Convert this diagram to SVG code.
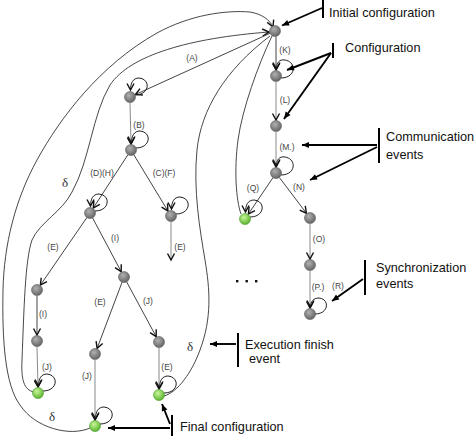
<svg xmlns="http://www.w3.org/2000/svg" width="474" height="438" viewBox="0 0 474 438">
<style>
.edge{fill:none;stroke:#444;stroke-width:1;marker-end:url(#open)}
.edgel{fill:none;stroke:#8a8a8a;stroke-width:1;marker-end:url(#open)}
.loop{fill:none;stroke:#222;stroke-width:1;marker-end:url(#open)}
.curve{fill:none;stroke:#333;stroke-width:0.9}
.ann{fill:none;stroke:#000;stroke-width:1.9;marker-end:url(#solid)}
.bar{stroke:#000;stroke-width:2}
.lbl{font-family:"Liberation Sans",Arial,sans-serif;font-size:8.5px;fill:#444;text-anchor:middle}
.txt{font-family:"Liberation Sans",Arial,sans-serif;font-size:12.7px;fill:#111}
.delta{font-family:"Liberation Serif","Times New Roman",serif;font-size:13px;fill:#333;text-anchor:middle}
.g{fill:url(#gray);stroke:#5a5a5a;stroke-width:0.6}
.gr{fill:url(#green);stroke:#4a9a2a;stroke-width:0.6}
</style>
<defs>
<radialGradient id="gray" cx="40%" cy="35%" r="65%">
<stop offset="0" stop-color="#b0b0b0"/>
<stop offset="1" stop-color="#666"/>
</radialGradient>
<radialGradient id="green" cx="40%" cy="35%" r="65%">
<stop offset="0" stop-color="#c8f59a"/>
<stop offset="1" stop-color="#5cb52f"/>
</radialGradient>
<marker id="open" markerUnits="userSpaceOnUse" markerWidth="10" markerHeight="10" refX="6.5" refY="3.5" orient="auto" overflow="visible">
<path d="M0,0 L6.5,3.5 L0,7" fill="none" stroke="#111" stroke-width="1.4"/>
</marker>
<marker id="solid" markerUnits="userSpaceOnUse" markerWidth="10" markerHeight="10" refX="7" refY="3" orient="auto" overflow="visible">
<path d="M0,0 L7,3 L0,6 z" fill="#000"/>
</marker>
</defs>

<g id="connectors">
<!-- delta curves back to initial configuration -->
<path class="curve" d="M90,428 C70,437 35,428 20,405 C5,385 2,340 3,290 C4,245 15,200 37,160 C60,118 100,65 157,33 C190,15 225,10 250,12 C262,14 270,20 273,27" marker-end="url(#open)"/>
<path class="curve" d="M34,392 C24,390 21,380 22,360 C24,310 25,260 32,240 C40,222 62,212 72,192 C90,160 92,115 110,85 C130,55 190,38 269,32" marker-end="url(#open)"/>
<path class="curve" d="M164,396 C178,392 192,372 200,350 C212,318 210,290 205,260 C200,230 193,190 197,150 C201,110 225,70 270,36"/>
<path class="curve" d="M241,214 C236,200 234,170 238,140 C242,110 258,65 272,36"/>
<!-- right chain -->
<path class="edge" d="M276,37 L276,70"/>
<path class="edgel" d="M276,82 L276,120"/>
<path class="edgel" d="M276,132 L276,167"/>
<path class="edge" d="M273,177.6 L248.4,214"/>
<path class="edge" d="M279.3,177.4 L306.4,213.2"/>
<path class="edgel" d="M310,224 L310,259"/>
<path class="edgel" d="M310,271 L310,308"/>
<!-- left tree -->
<path class="edge" d="M270,33.3 L135.5,94.5"/>
<path class="edgel" d="M130,103 L131,144"/>
<path class="edge" d="M128,154.6 L93.3,208"/>
<path class="edge" d="M133.8,154.7 L167.9,210.9"/>
<path class="edgel" d="M171,222 L171,260"/>
<path class="edge" d="M86.9,217.5 L40.4,285.1"/>
<path class="edge" d="M92.6,217.9 L121.2,271.7"/>
<path class="edge" d="M37,296 L37,335"/>
<path class="edgel" d="M37,347 L38,387"/>
<path class="edge" d="M122.1,282.1 L97.1,348.4"/>
<path class="edge" d="M126.6,281.8 L156.2,336.7"/>
<path class="edgel" d="M95,360 L95,420"/>
<path class="edgel" d="M159,348 L159,389"/>
<!-- self loops -->
<path class="loop" d="M135,95 C150,95 151,79 139,78 C133,78 130.5,83 130.5,90"/>
<path class="loop" d="M136,148 C151,148 152,132 140,131 C134,131 131.5,136 131.5,143"/>
<path class="loop" d="M95,211 C110,211 111,195 99,194 C93,194 90.5,199 90.5,206"/>
<path class="loop" d="M176,214 C191,214 192,198 180,197 C174,197 171.5,202 171.5,209"/>
<path class="loop" d="M281,78 C296,78 297,62 285,60 C279,59 276.5,63 276.5,69"/>
<path class="loop" d="M281,175 C296,175 297,159 285,157 C279,156 276.5,160 276.5,166"/>
<path class="loop" d="M250,217 C265,217 266,201 254,200 C248,200 245.5,205 245.5,212"/>
<path class="loop" d="M43,391 C58,391 59,375 47,374 C41,374 38.5,379 38.5,386"/>
<path class="loop" d="M100,424 C115,424 116,408 104,407 C98,407 95.5,412 95.5,419"/>
<path class="loop" d="M164,393 C179,393 180,377 168,376 C162,376 159.5,381 159.5,388"/>
<path class="loop" d="M315,314 C329,314 330,299 319,298 C313,298 310.5,302 310.5,307"/>
</g>

<g id="nodes">
<g id="n-root"><circle class="g" cx="275" cy="31" r="5.5"/></g>
<g id="n-k"><circle class="g" cx="276" cy="76" r="5.5"/></g>
<g id="n-l"><circle class="g" cx="276" cy="126" r="5.5"/></g>
<g id="n-m"><circle class="g" cx="276" cy="173" r="5.5"/></g>
<g id="n-q"><circle class="gr" cx="245" cy="219" r="5.5"/></g>
<g id="n-n"><circle class="g" cx="310" cy="218" r="5.5"/></g>
<g id="n-o"><circle class="g" cx="310" cy="265" r="5.5"/></g>
<g id="n-p"><circle class="g" cx="310" cy="314" r="5.5"/></g>
<g id="n-a"><circle class="g" cx="130" cy="97" r="5.5"/></g>
<g id="n-b"><circle class="g" cx="131" cy="150" r="5.5"/></g>
<g id="n-dh"><circle class="g" cx="90" cy="213" r="5.5"/></g>
<g id="n-cf"><circle class="g" cx="171" cy="216" r="5.5"/></g>
<g id="n-e1"><circle class="g" cx="37" cy="290" r="5.5"/></g>
<g id="n-i"><circle class="g" cx="124" cy="277" r="5.5"/></g>
<g id="n-i2"><circle class="g" cx="37" cy="341" r="5.5"/></g>
<g id="n-j1"><circle class="gr" cx="38" cy="393" r="5.5"/></g>
<g id="n-ie"><circle class="g" cx="95" cy="354" r="5.5"/></g>
<g id="n-ij"><circle class="g" cx="159" cy="342" r="5.5"/></g>
<g id="n-jf"><circle class="gr" cx="95" cy="426" r="5.5"/></g>
<g id="n-ef"><circle class="gr" cx="159" cy="395" r="5.5"/></g>
<g id="dots" fill="#111">
<rect x="236" y="280" width="2.4" height="2.4"/>
<rect x="245.5" y="280" width="2.4" height="2.4"/>
<rect x="255" y="280" width="2.4" height="2.4"/>
</g>
</g>

<g id="labels">
<text class="lbl" x="285" y="53">(K)</text>
<text class="lbl" x="285" y="103">(L)</text>
<text class="lbl" x="287" y="150">(M.)</text>
<text class="lbl" x="253" y="191">(Q)</text>
<text class="lbl" x="299" y="190">(N)</text>
<text class="lbl" x="319" y="242">(O)</text>
<text class="lbl" x="318" y="290">(P.)</text>
<text class="lbl" x="338" y="289">(R)</text>
<text class="lbl" x="192" y="61">(A)</text>
<text class="lbl" x="139" y="128">(B)</text>
<text class="lbl" x="102" y="176">(D)(H)</text>
<text class="lbl" x="164" y="176">(C)(F)</text>
<text class="lbl" x="180" y="250">(E)</text>
<text class="lbl" x="53" y="250">(E)</text>
<text class="lbl" x="115" y="241">(I)</text>
<text class="lbl" x="43" y="317">(I)</text>
<text class="lbl" x="47" y="370">(J)</text>
<text class="lbl" x="100" y="305">(E)</text>
<text class="lbl" x="148" y="304">(J)</text>
<text class="lbl" x="87" y="379">(J)</text>
<text class="lbl" x="167" y="370">(E)</text>
<text class="delta" x="65" y="187">δ</text>
<text class="delta" x="52" y="421">δ</text>
<text class="delta" x="190" y="351">δ</text>
</g>

<g id="annotations">
<line class="bar" x1="323" y1="0" x2="323" y2="18"/>
<path class="ann" d="M322,8 L282,25.5"/>
<text class="txt" x="329" y="17">Initial configuration</text>

<line class="bar" x1="333" y1="43" x2="333" y2="58"/>
<path class="ann" d="M331,53 L287,70"/>
<path class="ann" d="M331,53 L284,119"/>
<text class="txt" x="345" y="52">Configuration</text>

<line class="bar" x1="379" y1="128" x2="379" y2="163"/>
<path class="ann" d="M377,145 L302,145"/>
<path class="ann" d="M377,147 L310,180"/>
<text class="txt" x="386" y="141">Communication</text>
<text class="txt" x="386" y="159">events</text>

<line class="bar" x1="365" y1="260" x2="365" y2="295"/>
<path class="ann" d="M363,279 L332,301"/>
<text class="txt" x="376" y="272">Synchronization</text>
<text class="txt" x="376" y="288">events</text>

<line class="bar" x1="238" y1="333" x2="238" y2="367"/>
<path class="ann" d="M236,344 L210,344"/>
<text class="txt" x="245" y="349">Execution finish</text>
<text class="txt" x="249" y="363">event</text>

<line class="bar" x1="172" y1="415" x2="172" y2="436"/>
<path class="ann" d="M170,428 L108,428"/>
<path class="ann" d="M170,424 L162,404"/>
<text class="txt" x="180" y="431">Final configuration</text>
</g>
</svg>
